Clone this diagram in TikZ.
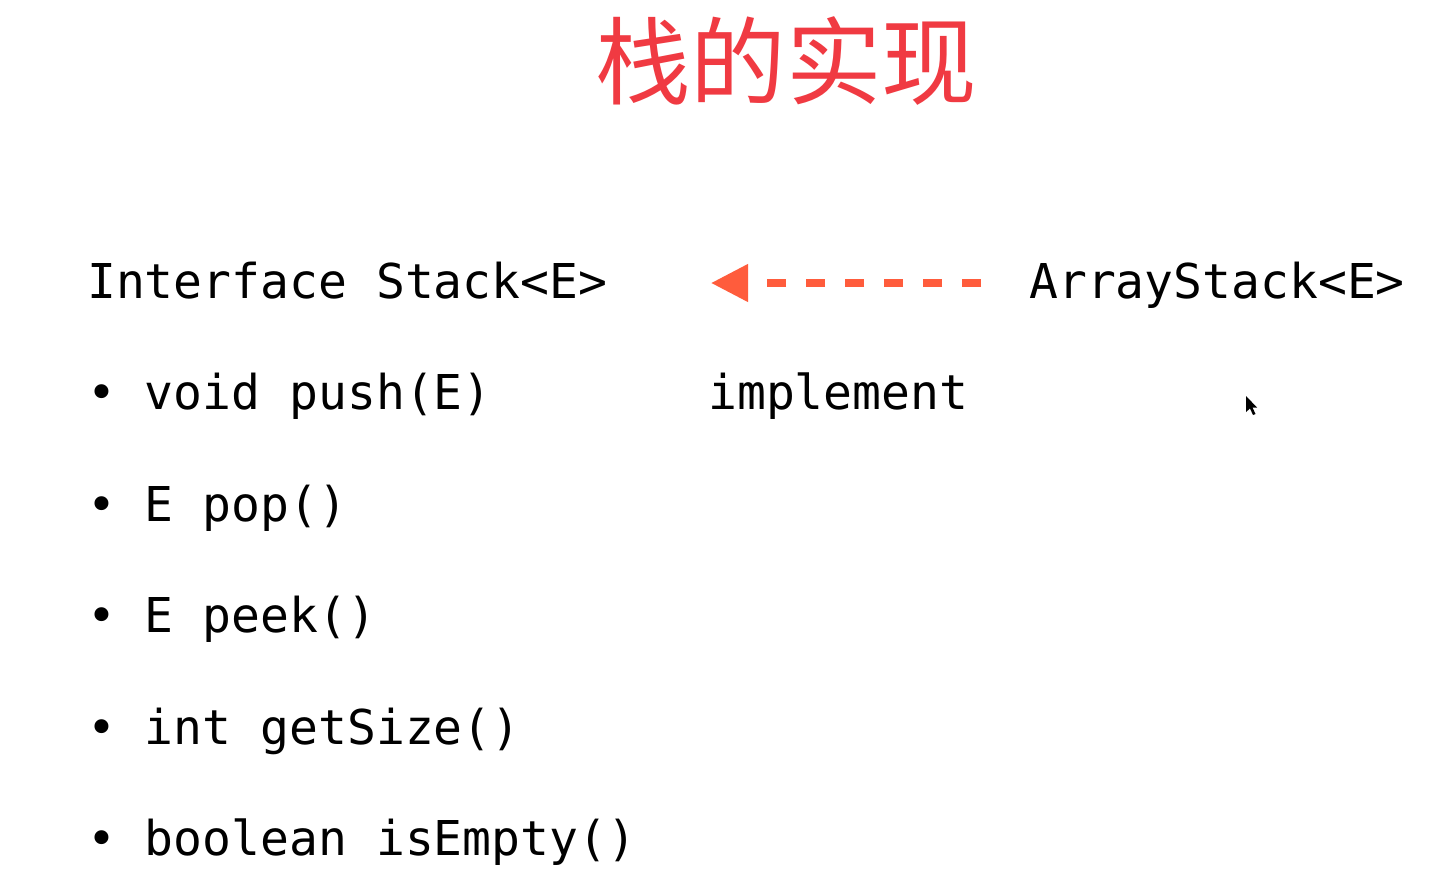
\documentclass[tikz,border=0pt]{standalone}
\usepackage{fontspec}
\setmonofont{DejaVu Sans Mono}
\newfontfamily\cjk{Noto Sans CJK SC}
\usetikzlibrary{arrows.meta}
\definecolor{titlered}{RGB}{240,58,66}
\definecolor{arrowred}{RGB}{255,92,60}
\tikzset{
  code/.style={anchor=base west, inner sep=0pt, font=\ttfamily\fontsize{48}{58}\selectfont, text=black},
  titletext/.style={anchor=base, inner sep=0pt, font=\cjk\fontsize{95.5}{110}\selectfont, text=titlered},
  implarrow/.style={draw=arrowred, line width=7.5pt, dash pattern=on 19pt off 20pt, -{Triangle[length=37pt,width=36pt]}}
}
\begin{document}
\begin{tikzpicture}[x=1pt,y=-1pt]
\useasboundingbox[fill=white] (0,0) rectangle (1455,886);
\node[titletext] (title) at (786,97.5) {栈的实现};
\node[code] (iface) at (87,298) {Interface Stack<E>};
\node[code] (m1) at (87,409.5) {• void push(E)};
\node[code] (m2) at (87,521) {• E pop()};
\node[code] (m3) at (87,632.5) {• E peek()};
\node[code] (m4) at (87,744) {• int getSize()};
\node[code] (m5) at (87,855.5) {• boolean isEmpty()};
\node[code] (impl) at (708,409.5) {implement};
\node[code] (astack) at (1029,298) {ArrayStack<E>};
\coordinate (arrstart) at (981,283);
\coordinate (arrend) at (711,283);
\draw[implarrow] (arrstart) -- (arrend);
\fill[black] (1246,396) -- (1246,412) -- (1250,408.5) -- (1253,415) -- (1255.5,414) -- (1252.5,407.5) -- (1257,407.5) -- cycle;
\end{tikzpicture}
\end{document}
